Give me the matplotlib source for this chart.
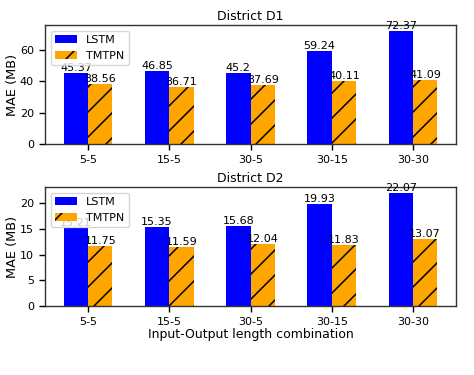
import matplotlib
matplotlib.use('Agg')
import matplotlib.pyplot as plt
import numpy as np

combos = ['5-5', '15-5', '30-5', '30-15', '30-30']
lstm_d1 = [45.37, 46.85, 45.2, 59.24, 72.37]
tmtpn_d1 = [38.56, 36.71, 37.69, 40.11, 41.09]
lstm_d2 = [15.21, 15.35, 15.68, 19.93, 22.07]
tmtpn_d2 = [11.75, 11.59, 12.04, 11.83, 13.07]

# render at a lower dpi so the hatch spacing matches, scale sizes to suit
DPI = 75
s = 100 / DPI

plt.rcParams['font.size'] = 8 * s
plt.rcParams['hatch.linewidth'] = 1.1 * s
plt.rcParams['axes.linewidth'] = 1.0 * s
plt.rcParams['xtick.major.width'] = 1.0 * s
plt.rcParams['ytick.major.width'] = 1.0 * s
plt.rcParams['xtick.major.size'] = 4.5 * s
plt.rcParams['ytick.major.size'] = 4.5 * s
plt.rcParams['xtick.major.pad'] = 3.5 * s
plt.rcParams['ytick.major.pad'] = 3.5 * s
plt.rcParams['axes.edgecolor'] = '#333333'
plt.rcParams['patch.linewidth'] = 1.0 * s

fig = plt.figure(figsize=(474 / DPI, 375 / DPI), dpi=DPI)
ax1 = fig.add_axes([0.095, 0.616, 0.867, 0.317])
ax2 = fig.add_axes([0.095, 0.184, 0.867, 0.317])

x = np.arange(len(combos))
width = 0.3


def draw(ax, lstm, tmtpn, title):
    ax.bar(x - width/2, lstm, width, color='blue', label='LSTM')
    ax.bar(x + width/2, tmtpn, width, color='orange', hatch='/', label='TMTPN')
    for xi, v in zip(x, lstm):
        ax.text(xi - width/2, v, f'{v}', ha='center', va='bottom', fontsize=8 * s)
    for xi, v in zip(x, tmtpn):
        ax.text(xi + width/2, v, f'{v}', ha='center', va='bottom', fontsize=8 * s)
    ax.set_xticks(x)
    ax.set_xticklabels(combos)
    ax.set_ylabel('MAE (MB)', fontsize=9.3 * s, labelpad=1)
    ax.set_title(title, fontsize=9 * s, pad=4 * s)
    ax.legend(loc='upper left', fontsize=8 * s)


draw(ax1, lstm_d1, tmtpn_d1, 'District D1')
draw(ax2, lstm_d2, tmtpn_d2, 'District D2')
ax2.set_xlabel('Input-Output length combination', fontsize=9 * s, labelpad=1)

plt.savefig('out.png', dpi=DPI)
